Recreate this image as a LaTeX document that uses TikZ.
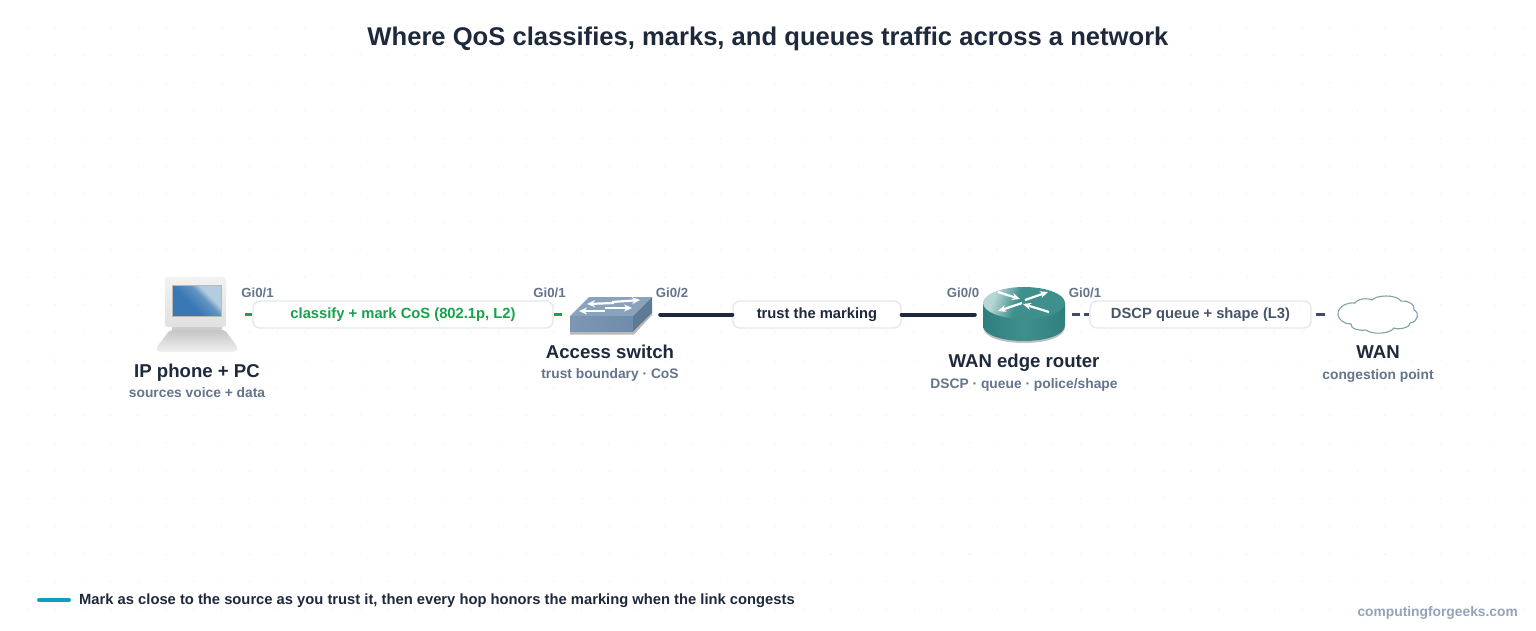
\documentclass[tikz,border=0pt]{standalone}
\usepackage{fontspec}
\setmainfont{Liberation Sans}
\usetikzlibrary{calc,arrows.meta}
\definecolor{ink}{HTML}{1E293B}
\definecolor{subt}{HTML}{64748B}
\definecolor{edge}{HTML}{E2E8F0}
\definecolor{grn}{HTML}{16A34A}
\definecolor{slate}{HTML}{475569}
\definecolor{linkslate}{HTML}{3E4C66}
\definecolor{legendline}{HTML}{0E9FC0}
\definecolor{wmark}{HTML}{94A3B8}
\definecolor{griddot}{HTML}{EEF0F3}
\definecolor{scrA}{HTML}{3A78B4}
\definecolor{scrB}{HTML}{B4CCE0}
\definecolor{swTop}{HTML}{8AA3BC}
\definecolor{swFront}{HTML}{6F8CAB}
\definecolor{swSide}{HTML}{5F7A94}
\definecolor{rtDark}{HTML}{2F7F7F}
\definecolor{rtMid}{HTML}{3F8F8C}
\definecolor{rtLight}{HTML}{B5D6D4}
\definecolor{cloudline}{HTML}{7FA3A6}
\pgfdeclarehorizontalshading{screenshade}{100bp}{color(0bp)=(scrA);color(42bp)=(scrA);color(58bp)=(scrA!80!white);color(66bp)=(scrB);color(100bp)=(scrB)}
\pgfdeclarehorizontalshading{routertop}{100bp}{color(0bp)=(rtLight);color(28bp)=(rtLight);color(45bp)=(rtMid);color(100bp)=(rtMid)}
\tikzset{
  x=1pt,y=-1pt,
  title/.style={font=\bfseries\fontsize{25.6}{30}\selectfont,text=ink,inner sep=0,anchor=base},
  nodename/.style={font=\bfseries\fontsize{18.6}{22}\selectfont,text=ink,inner sep=0,anchor=base},
  nodesub/.style={font=\bfseries\fontsize{13.8}{16}\selectfont,text=subt,inner sep=0,anchor=base},
  port/.style={font=\bfseries\fontsize{13.2}{15}\selectfont,text=subt,inner sep=0,anchor=base},
  linkbox/.style={draw=edge,line width=1.3pt,fill=white,rounded corners=7pt,minimum height=27pt,inner sep=0,font=\bfseries\fontsize{14.75}{17}\selectfont},
  iconbox/.style={inner sep=0,minimum width=#1,minimum height=10pt},
  green link/.style={draw=grn,line width=2.8pt},
  dark link/.style={draw=ink,line width=4pt,line cap=round},
  slate link/.style={draw=linkslate,line width=3pt,dash pattern=on 8pt off 4pt},
  swarrow/.style={draw=white,line width=2.2pt,-{Stealth[length=8pt,width=7pt]}},
}
\begin{document}
\begin{tikzpicture}
\useasboundingbox (0,0) rectangle (1536,630);
\fill[white] (0,0) rectangle (1536,630);
% faint dot grid
\foreach \i in {1,...,55}{\foreach \j in {1,...,22}{
  \fill[griddot] (27.7*\i,27.7*\j) circle (0.8);}}

\node[title] (ttl) at (768,45.5) {Where QoS classifies, marks, and queues traffic across a network};

% --- laptop
\node[iconbox=90pt] (pc) at (200,314.5) {};
\shade[top color=gray!45,bottom color=gray!12,rounded corners=3pt] (170,330) -- (225,330) -- (238,348) -- (236,352) -- (158,352) -- (156,348) -- cycle;
\fill[gray!40] (172,326) rectangle (222,330);
\shade[top color=gray!10,bottom color=gray!24,rounded corners=2.5pt] (165,277) rectangle (226,327);
\shade[shading=screenshade,shading angle=45] (172,285) rectangle (221,316);
\draw[gray!55,line width=.6pt] (172,285) rectangle (221,316);

% --- switch
\node[iconbox=82pt] (sw) at (611,314.5) {};
\fill[gray!55] (570,331) -- (633,331) -- (652,313) -- (652,315) -- (634,334.5) -- (570,334.5) -- cycle;
\fill[swTop] (570,316) -- (589,297) -- (652,297) -- (633,316) -- cycle;
\shade[left color=swFront!90!white,right color=swFront] (570,316) rectangle (633,331.5);
\fill[swSide] (633,316) -- (652,297) -- (652,313) -- (633,331.5) -- cycle;
\draw[swarrow] (614,303) -- (587,304);
\draw[swarrow] (612,302) -- (640,300);
\draw[swarrow] (605,311) -- (579,311);
\draw[swarrow] (605,308) -- (632,308);

% --- router
\node[iconbox=84pt] (rt) at (1024,314.5) {};
\fill[gray!50] (983,303) -- (983,327) .. controls (983,348.3) and (1065,348.3) .. (1065,327) -- (1065,303) -- cycle;
\shade[left color=rtDark,right color=rtDark,middle color=rtMid] (983,303) -- (983,325) .. controls (983,346.3) and (1065,346.3) .. (1065,325) -- (1065,303) -- cycle;
\shade[shading=routertop,shading angle=-20] (1024,303) ellipse[x radius=41,y radius=16];
\draw[swarrow] (998,292) -- (1020,299);
\draw[swarrow] (1025,300) -- (1048,292);
\draw[swarrow] (1022,303) -- (998,311);
\draw[swarrow] (1049,312) -- (1023,304);

% --- cloud
\node[iconbox=80pt] (cl) at (1378,314.5) {};
\draw[fill=white,draw=cloudline,line width=1.1pt]
  (1338,315) .. controls (1337,307) and (1347,302) .. (1355,303)
  .. controls (1358,298) and (1369,298) .. (1372,300)
  .. controls (1376,295) and (1396,294) .. (1401,301)
  .. controls (1408,300) and (1416,305) .. (1414,310)
  .. controls (1420,313) and (1418,322) .. (1410,323)
  .. controls (1410,328) and (1398,330) .. (1394,328)
  .. controls (1390,334) and (1372,335) .. (1366,330)
  .. controls (1360,331) and (1350,329) .. (1351,324)
  .. controls (1344,324) and (1339,320) .. (1338,315) -- cycle;

% --- link labels
\node[linkbox,minimum width=300pt,text=grn] (l1) at (403,314.5) {classify + mark CoS (802.1p, L2)};
\node[linkbox,minimum width=168pt,text=ink] (l2) at (817,314.5) {trust the marking};
\node[linkbox,minimum width=221pt,text=slate] (l3) at (1200.5,314.5) {DSCP queue + shape (L3)};

% --- connectors
\draw[green link] (pc.east) -- (l1.west);
\draw[green link,shorten >=8pt] (l1.east) -- (sw.west);
\draw[dark link,shorten <=8pt] (sw.east) -- (l2.west);
\draw[dark link,shorten >=7pt] (l2.east) -- (rt.west);
\draw[slate link,shorten <=6pt] (rt.east) -- (l3.west);
\draw[slate link,dash pattern=on 10pt off 20pt,shorten <=4pt,shorten >=13pt] (l3.east) -- (cl.west);

% --- names
\node[nodename] (n1) at (197,377) {IP phone + PC};
\node[nodesub] (s1) at (197,397) {sources voice + data};
\node[nodename] (n2) at (610,358) {Access switch};
\node[nodesub] (s2) at (610,378.5) {trust boundary · CoS};
\node[nodename] (n3) at (1024,367) {WAN edge router};
\node[nodesub] (s3) at (1024,388) {DSCP · queue · police/shape};
\node[nodename] (n4) at (1378,358) {WAN};
\node[nodesub] (s4) at (1378,379) {congestion point};

% --- ports
\node[port] (p1) at (257.5,297) {Gi0/1};
\node[port] (p2) at (549.5,297) {Gi0/1};
\node[port] (p3) at (672,297) {Gi0/2};
\node[port] (p4) at (963,297) {Gi0/0};
\node[port] (p5) at (1085,297) {Gi0/1};

% --- legend
\coordinate (lga) at (39,600);
\coordinate (lgb) at (69,600);
\draw[legendline,line width=4pt,line cap=round] (lga) -- (lgb);
\node[font=\bfseries\fontsize{14.75}{17}\selectfont,text=ink,inner sep=0,anchor=base west] (lgt) at (79,604.5) {Mark as close to the source as you trust it, then every hop honors the marking when the link congests};
\node[font=\bfseries\fontsize{13.8}{17}\selectfont,text=wmark,inner sep=0,anchor=base east] (wm) at (1518,616) {computingforgeeks.com};
\end{tikzpicture}
\end{document}
